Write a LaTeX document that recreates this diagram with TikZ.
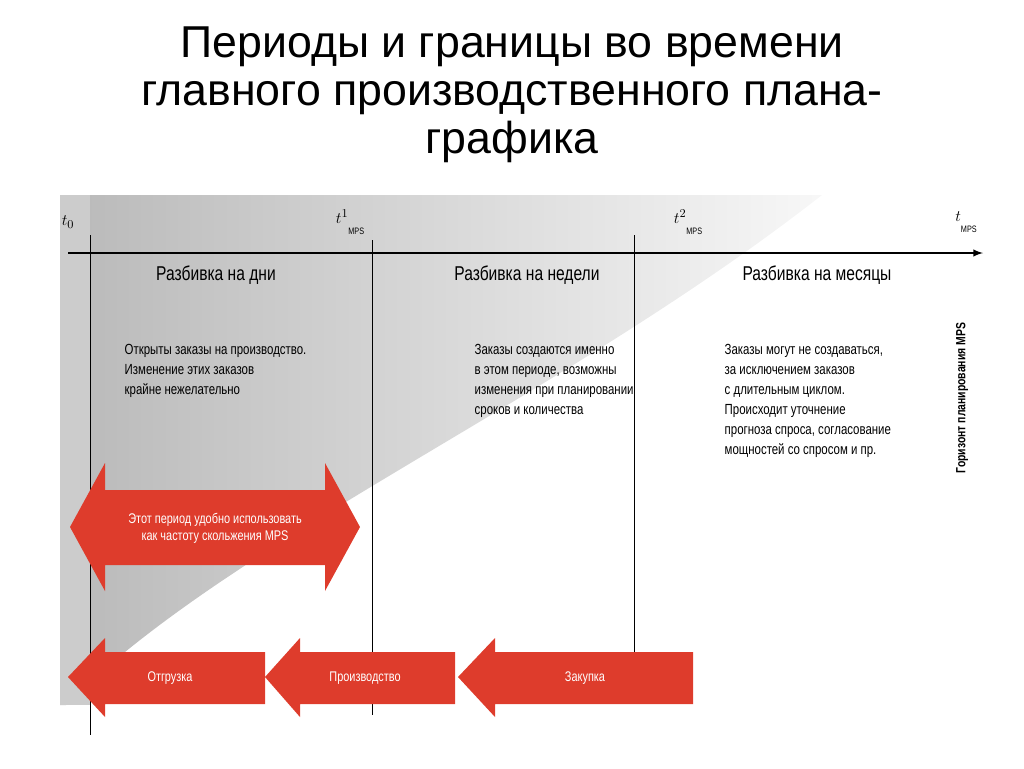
\documentclass[tikz,border=0pt]{standalone}
\usepackage{fontspec}
\setmainfont{Liberation Sans}
\newfontfamily\narrowfont[FakeStretch=0.78]{Liberation Sans}
\definecolor{mpsred}{RGB}{222,60,44}
\tikzset{
  boundline/.style={black, line width=0.7pt},
  redarrow/.style={fill=mpsred, draw=none},
  periodlabel/.style={font=\narrowfont\fontsize{15}{18}\selectfont},
  notetext/.style={font=\narrowfont\fontsize{11}{15}\selectfont, align=left, anchor=north west},
  arrowtext/.style={font=\narrowfont\fontsize{10.5}{13}\selectfont, white, align=center},
  tlabel/.style={font=\narrowfont\fontsize{13}{13}\selectfont, inner sep=1pt},
}
\begin{document}
\begin{tikzpicture}[x=0.75pt, y=-0.75pt]
  \useasboundingbox (0,0) rectangle (1024,768);
  % title
  \node (title) at (512,95) [align=center, font=\fontsize{33.5}{36}\selectfont]
    {Периоды и границы во времени\\главного производственного плана-\\графика};
  % shaded wedge
  \shade[left color=gray!55, right color=gray!6]
    (60,195) -- (822,195) .. controls (560,400) and (230,540) .. (66,705) -- (60,705) -- cycle;
  \fill[gray!40] (60,195) rectangle (90,705);
  % time axis
  \coordinate (axl) at (68,253);
  \coordinate (axr) at (983,253);
  \draw[line width=1.5pt, -latex] (axl) -- (axr);
  \draw[boundline] (90,235) -- (90,735);
  \draw[boundline] (372,240) -- (372,715);
  \draw[boundline] (634,235) -- (634,700);
  \node (t0) [tlabel] at (68,222) {$t_{0}$};
  \node (t1) [tlabel] at (350,222) {$t^{1}$\raisebox{-1.2ex}{\scriptsize MPS}};
  \node (t2) [tlabel] at (688,222) {$t^{2}$\raisebox{-1.2ex}{\scriptsize MPS}};
  \node (tm) [tlabel] at (966,222) {$t$\raisebox{-1.2ex}{\scriptsize MPS}};
  % period headings
  \node (days)   [periodlabel] at (216,275) {Разбивка на дни};
  \node (weeks)  [periodlabel] at (527,275) {Разбивка на недели};
  \node (months) [periodlabel] at (817,275) {Разбивка на месяцы};
  \node (horizon) [rotate=90, font=\narrowfont\fontsize{10}{12}\selectfont\bfseries] at (962,398)
    {Горизонт планирования MPS};
  % notes
  \node (ndays) [notetext] at (120,340)
    {Открыты заказы на производство.\\Изменение этих заказов\\крайне нежелательно};
  \node (nweeks) [notetext] at (470,340)
    {Заказы создаются именно\\в этом периоде, возможны\\изменения при планировании\\сроков и количества};
  \node (nmonths) [notetext] at (720,340)
    {Заказы могут не создаваться,\\за исключением заказов\\с длительным циклом.\\Происходит уточнение\\прогноза спроса, согласование\\мощностей со спросом и пр.};
  % red arrows
  \fill[redarrow] (70,527) -- (105,463) -- (105,490) -- (325,490) -- (325,463) -- (360,527)
    -- (325,591) -- (325,565) -- (105,565) -- (105,591) -- cycle;
  \node (freeze) [arrowtext] at (215,528) {Этот период удобно использовать\\как частоту скольжения MPS};
  \fill[redarrow] (68,677) -- (105,638) -- (105,652) -- (265,652) -- (265,704) -- (105,704) -- (105,717) -- cycle;
  \fill[redarrow] (265,677) -- (300,638) -- (300,652) -- (455,652) -- (455,704) -- (300,704) -- (300,717) -- cycle;
  \fill[redarrow] (458,677) -- (495,638) -- (495,652) -- (693,652) -- (693,704) -- (495,704) -- (495,717) -- cycle;
  \node (ship) [arrowtext] at (170,678) {Отгрузка};
  \node (prod) [arrowtext] at (365,678) {Производство};
  \node (buy)  [arrowtext] at (585,678) {Закупка};
\end{tikzpicture}
\end{document}
